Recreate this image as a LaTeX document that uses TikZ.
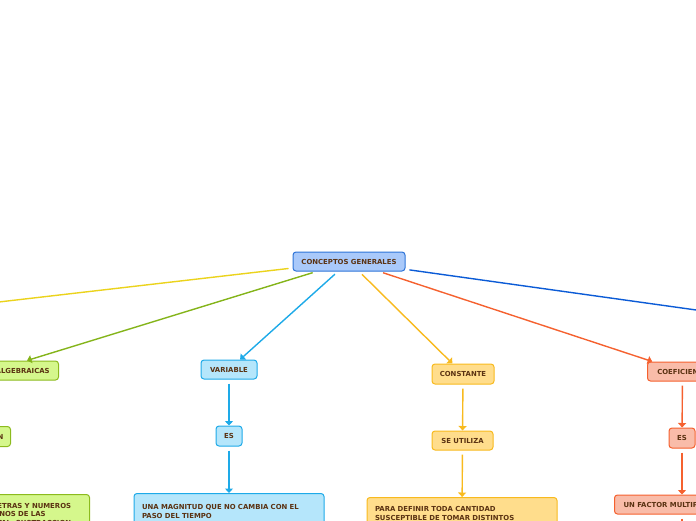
\documentclass[tikz,border=0pt]{standalone}
\usepackage{fontspec}
\setmainfont{DejaVu Sans}
\usetikzlibrary{arrows.meta}
\definecolor{txt}{HTML}{5A3212}
\definecolor{cgfill}{HTML}{A9C9FA}
\definecolor{cgdraw}{HTML}{2E74D8}
\definecolor{gfill}{HTML}{D5F78C}
\definecolor{gdraw}{HTML}{8CBB1E}
\definecolor{gline}{HTML}{84B41A}
\definecolor{cfill}{HTML}{B5E6FB}
\definecolor{cdraw}{HTML}{1EAAE8}
\definecolor{yfill}{HTML}{FFDD8C}
\definecolor{ydraw}{HTML}{F8BA1E}
\definecolor{rfill}{HTML}{F9BCA9}
\definecolor{rdraw}{HTML}{F5612F}
\definecolor{yline}{HTML}{EBD31C}
\definecolor{bline}{HTML}{0B5BD6}
\tikzset{
  box/.style={draw, rounded corners=3pt, line width=1pt, text=txt,
    font=\bfseries\fontsize{6.9}{8.5}\selectfont, inner sep=0pt, minimum height=19pt},
  tbox/.style={box, align=left, inner xsep=8pt, inner ysep=7pt, anchor=north},
  conn/.style={line width=1.4pt, shorten <=4pt, -{Triangle[length=4.5pt,width=8pt]}},
}
\begin{document}
\begin{tikzpicture}[x=1pt,y=-1pt]
\useasboundingbox (0,0) rectangle (696,520);
\clip (0,0) rectangle (696,520);
% nodes
\node[box, fill=cgfill, draw=cgdraw, minimum width=112pt] (cg) at (349,261.5) {CONCEPTOS GENERALES};
\node[box, fill=gfill, draw=gdraw, minimum width=128pt, anchor=east] (alg) at (59,370.5) {EXPRESIONES ALGEBRAICAS};
\node[box, fill=gfill, draw=gdraw, minimum width=31pt, minimum height=20pt, anchor=east] (son) at (11,436.5) {SON};
\node[tbox, fill=gfill, draw=gdraw, text width=120pt, anchor=north east, minimum height=40pt] (def) at (90,494) {USO DE LETRAS Y NUMEROS\\Y LOS SIGNOS DE LAS\\SUMA TOTAL, SUSTRACCION};
\node[box, fill=cfill, draw=cdraw, minimum width=56pt] (var) at (229,369.5) {VARIABLE};
\node[box, fill=cfill, draw=cdraw, minimum width=26pt, minimum height=20pt] (es1) at (229,436) {ES};
\node[tbox, fill=cfill, draw=cdraw, text width=174pt, minimum height=36pt] (mag) at (229,493) {UNA MAGNITUD QUE NO CAMBIA CON EL\\PASO DEL TIEMPO};
\node[box, fill=yfill, draw=ydraw, minimum width=62pt, minimum height=20pt] (cons) at (463,374) {CONSTANTE};
\node[box, fill=yfill, draw=ydraw, minimum width=61pt] (seut) at (462.5,440.5) {SE UTILIZA};
\node[tbox, fill=yfill, draw=ydraw, text width=174pt, minimum height=40pt] (para) at (462,497) {PARA DEFINIR TODA CANTIDAD\\SUSCEPTIBLE DE TOMAR DISTINTOS\\VALORES};
\node[box, fill=rfill, draw=rdraw, minimum width=70pt, anchor=west] (coef) at (647,371.5) {COEFICIENTE};
\node[box, fill=rfill, draw=rdraw, minimum width=26pt, minimum height=20pt] (es3) at (682,438) {ES};
\node[box, fill=rfill, draw=rdraw, inner xsep=9pt, anchor=west] (fac) at (614,504.5) {UN FACTOR MULTIPLICATIVO};
% free ends
\coordinate (yl) at (-200,325);
\coordinate (br) at (900,338.5);
\coordinate (fd) at (682,560);
% connectors
\draw[conn, yline] (cg) -- (yl);
\draw[conn, gline] (cg) -- (alg);
\draw[conn, cdraw] (cg) -- (var);
\draw[conn, ydraw] (cg) -- (cons);
\draw[conn, rdraw] (cg) -- (coef);
\draw[conn, bline] (cg) -- (br);
\draw[conn, cdraw] (var) -- (es1);
\draw[conn, cdraw] (es1) -- (mag);
\draw[conn, ydraw] (cons) -- (seut);
\draw[conn, ydraw] (seut) -- (para);
\draw[conn, rdraw] (coef) -- (es3);
\draw[conn, rdraw] (es3) -- (es3 |- fac.north);
\draw[conn, rdraw] (fac.south -| es3) -- (fd);
\end{tikzpicture}
\end{document}
